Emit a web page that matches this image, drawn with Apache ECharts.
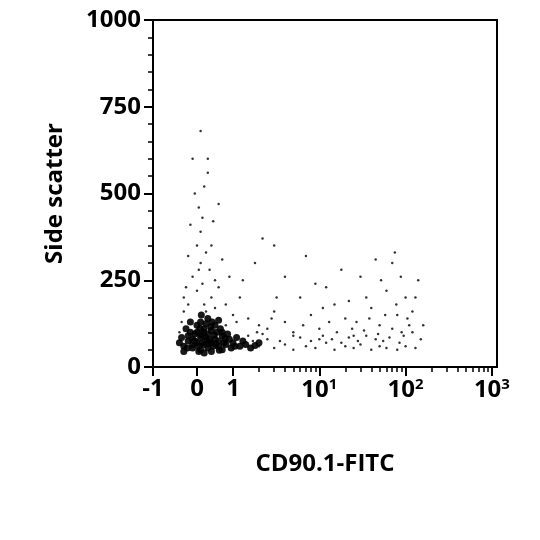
<!DOCTYPE html><html><head><meta charset="utf-8"><script src="https://cdn.jsdelivr.net/npm/echarts@6/dist/echarts.min.js"></script></head><body style="margin:0;background:#fff"><div id="c" style="width:540px;height:540px"></div><script>
const xTickValues=[-1,0,1,10,100,1000];
const xTickLabels=['-1','0','1','10{s|1}','10{s|2}','10{s|3}'];
const yTicks=[0,250,500,750,1000];
const corePoints=[[-0.3,60],[-0.2,75],[-0.1,55],[0,70],[0.1,85],[0.2,65],[0.3,95],[0.4,70],[0.5,80],[0.6,60],[0.7,90],[0.1,50],[0,100],[-0.2,90],[0.2,110],[0.4,105],[0.6,75],[0.8,65],[0.9,80],[0.3,55],[-0.1,80],[0.5,120],[0.1,130],[0,120],[-0.3,45],[0.4,45],[0.7,50],[0.2,40],[1.0,70],[1.2,60],[0.15,70],[0.35,80],[0.55,100],[-0.05,95],[0.25,125],[0.45,60],[0.65,110],[0.85,95],[1.1,85],[-0.25,110],[-0.4,70],[0.05,60],[0.75,70],[1.4,65],[1.6,55],[0.95,55],[-0.15,130],[0.3,140],[0.6,135],[0.12,150],[-0.35,85],[-0.1,65],[0.05,45],[0.22,88],[0.48,92],[0.62,48],[0.78,82],[1.3,75],[1.8,62],[2.0,70],[0.32,68],[0.18,100],[-0.22,55],[0.42,130],[0.08,112],[-0.05,75],[0.28,78],[0.52,66],[0.12,92],[0.38,115],[0.7,100],[1.05,60],[-0.15,100]];
const sparsePoints=[[-0.2,180],[0,220],[-0.1,260],[0.1,300],[0,350],[-0.15,410],[0.05,460],[0.2,520],[-0.1,600],[0.1,680],[0.3,560],[0.15,240],[0.4,200],[-0.3,160],[0.25,330],[0.35,280],[0.6,230],[0.5,170],[0.8,180],[1.0,150],[0.9,260],[0.7,310],[0.45,420],[-0.05,500],[0.1,390],[0.6,470],[-0.25,230],[1.2,200],[1.5,140],[2,120],[2.5,110],[3,160],[4,130],[5,90],[6,200],[8,150],[10,110],[12,230],[15,180],[20,140],[25,90],[30,260],[40,170],[50,120],[60,220],[70,300],[80,150],[90,100],[100,200],[120,160],[140,250],[110,120],[75,330],[45,310],[35,200],[18,280],[9,240],[7,320],[4,260],[3,350],[2.2,370],[1.8,300],[1.3,250],[2,60],[3,55],[4,65],[5,50],[7,60],[9,55],[12,70],[15,50],[20,60],[25,55],[30,65],[40,50],[50,60],[60,55],[80,50],[100,60],[130,55],[2.5,80],[3.5,75],[6,85],[8,75],[11,90],[14,80],[18,70],[22,85],[28,75],[35,90],[45,80],[55,75],[65,85],[85,70],[150,80],[1.5,90],[1.7,75],[2.2,95],[5,100],[10,80],[16,100],[24,110],[33,105],[48,95],[70,110],[95,90],[120,100],[160,120],[2.8,140],[6.5,120],[13,130],[27,130],[38,140],[58,150],[78,180],[105,140],[130,200],[3.2,200],[11,170],[22,190],[52,250],[88,260],[-0.35,130],[-0.4,100],[-0.3,200],[0.2,180],[0.5,250],[0.8,120],[1.1,130],[1.9,100],[0.25,160],[0.05,280],[-0.2,320],[0.4,350],[0.15,430],[0.3,600]];
function tx(v){if(v<0)return 44+44*v;if(v<1)return 44+36*v;return 80+86.3*Math.log10(v);}
const minor=[];[1,10,100].forEach(d=>{for(let k=2;k<10;k++)minor.push(tx(d*k));});
const lab={fontFamily:'Open Sans',fontWeight:'bold',fontSize:24,color:'#000'};
const ch=echarts.init(document.getElementById('c'));
ch.setOption({animation:false,
grid:{left:153,right:43,top:20,bottom:173,show:true,borderColor:'#000',borderWidth:2},
xAxis:[{type:'value',min:0,max:344,splitLine:{show:false},axisLine:{lineStyle:{color:'#000',width:2}},
 axisTick:{customValues:xTickValues.map(tx),length:9,lineStyle:{width:2,color:'#000'}},
 axisLabel:Object.assign({customValues:xTickValues.map(tx),margin:10,formatter:v=>{const i=xTickValues.map(tx).findIndex(t=>Math.abs(t-v)<0.01);return i<0?'':xTickLabels[i];},rich:{s:{fontFamily:'Open Sans',fontWeight:'bold',fontSize:15,verticalAlign:'top',padding:[0,0,12,0],color:'#000'}}},lab),
 name:'CD90.1-FITC',nameLocation:'middle',nameGap:85,nameTextStyle:lab},
 {type:'value',min:0,max:344,position:'bottom',splitLine:{show:false},axisLine:{show:false},axisLabel:{show:false},axisTick:{customValues:minor,length:5,lineStyle:{width:1.5,color:'#000'}}}],
yAxis:{type:'value',min:0,max:1000,interval:250,splitLine:{show:false},axisLine:{lineStyle:{color:'#000',width:2}},
 axisTick:{length:9,lineStyle:{width:2,color:'#000'}},minorTick:{show:true,splitNumber:5,length:5,lineStyle:{color:'#000',width:1.5}},
 axisLabel:Object.assign({margin:12,formatter:v=>String(v)},lab),name:'Side scatter',nameLocation:'middle',nameGap:86,nameTextStyle:lab},
series:[{type:'scatter',symbolSize:2.5,itemStyle:{color:'#000'},data:sparsePoints.map(p=>[tx(p[0]),p[1]])},
{type:'scatter',symbolSize:7,itemStyle:{color:'#000',opacity:0.9},data:corePoints.map(p=>[tx(p[0]),p[1]])}]});
</script></body></html>
